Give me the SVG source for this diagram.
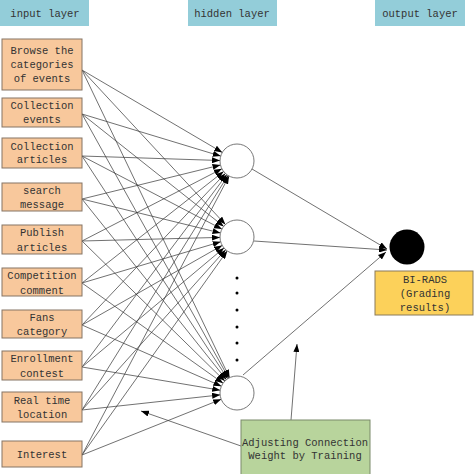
<svg xmlns="http://www.w3.org/2000/svg" width="474" height="474" viewBox="0 0 474 474">
<style>
text{font-family:"Liberation Mono","DejaVu Sans Mono",monospace;font-size:10.5px;fill:#333;text-anchor:middle}
.hdr{fill:#93cdd9;stroke:none}
.inp{fill:#f8c89c;stroke:#857565;stroke-width:1}
.hid{fill:#fff;stroke:#555;stroke-width:0.8}
.ln{stroke:#333;stroke-width:0.7;fill:none;marker-end:url(#ah)}
</style>
<defs>
<marker id="ah" markerWidth="8" markerHeight="6" refX="8" refY="3" orient="auto" markerUnits="userSpaceOnUse">
<path d="M0,0 L8,3 L0,6 z" fill="#000"/>
</marker>
</defs>
<rect width="474" height="474" fill="#fff"/>
<g id="headers">
<g id="h-input"><rect class="hdr" x="0" y="0" width="89" height="26"/><text x="45" y="17">input layer</text></g>
<g id="h-hidden"><rect class="hdr" x="188" y="0" width="89" height="26"/><text x="232" y="17">hidden layer</text></g>
<g id="h-output"><rect class="hdr" x="375" y="0" width="90" height="26"/><text x="420" y="17">output layer</text></g>
</g>
<g id="connectors">
<line class="ln" x1="82" y1="70" x2="222.3" y2="152.4"/>
<line class="ln" x1="82" y1="114" x2="220.7" y2="156.1"/>
<line class="ln" x1="82" y1="156" x2="220" y2="160.5"/>
<line class="ln" x1="82" y1="199" x2="220.5" y2="165"/>
<line class="ln" x1="82" y1="241" x2="221.9" y2="168.8"/>
<line class="ln" x1="82" y1="283" x2="223.6" y2="171.5"/>
<line class="ln" x1="82" y1="325" x2="225.3" y2="173.4"/>
<line class="ln" x1="82" y1="367" x2="226.8" y2="174.6"/>
<line class="ln" x1="82" y1="410" x2="228" y2="175.4"/>
<line class="ln" x1="82" y1="455" x2="229.1" y2="176"/>
<line class="ln" x1="82" y1="70" x2="225.4" y2="224.5"/>
<line class="ln" x1="82" y1="114" x2="223.7" y2="226.4"/>
<line class="ln" x1="82" y1="156" x2="221.9" y2="229.1"/>
<line class="ln" x1="82" y1="199" x2="220.5" y2="233"/>
<line class="ln" x1="82" y1="241" x2="220" y2="237.4"/>
<line class="ln" x1="82" y1="283" x2="220.7" y2="241.8"/>
<line class="ln" x1="82" y1="325" x2="222.2" y2="245.4"/>
<line class="ln" x1="82" y1="367" x2="224" y2="247.9"/>
<line class="ln" x1="82" y1="410" x2="225.7" y2="249.7"/>
<line class="ln" x1="82" y1="455" x2="227.2" y2="250.9"/>
<line class="ln" x1="82" y1="70" x2="229.6" y2="377.7"/>
<line class="ln" x1="82" y1="114" x2="228.7" y2="378.1"/>
<line class="ln" x1="82" y1="156" x2="227.7" y2="378.8"/>
<line class="ln" x1="82" y1="199" x2="226.4" y2="379.7"/>
<line class="ln" x1="82" y1="241" x2="224.9" y2="381.1"/>
<line class="ln" x1="82" y1="283" x2="223.1" y2="383.2"/>
<line class="ln" x1="82" y1="325" x2="221.4" y2="386.2"/>
<line class="ln" x1="82" y1="367" x2="220.2" y2="390.2"/>
<line class="ln" x1="82" y1="410" x2="220.1" y2="394.9"/>
<line class="ln" x1="82" y1="455" x2="221.2" y2="399.3"/>
<line class="ln" x1="252" y1="169" x2="387" y2="249"/>
<line class="ln" x1="254" y1="241" x2="387" y2="250"/>
<line class="ln" x1="243" y1="375" x2="386" y2="252"/>
<line class="ln" x1="291" y1="420" x2="297" y2="344"/>
<line class="ln" x1="241" y1="446" x2="141" y2="411"/>
</g>
<g id="in1"><rect class="inp" x="2" y="39" width="80" height="51"/><text x="42" y="54">Browse the</text><text x="42" y="68">categories</text><text x="42" y="82">of events</text></g>
<g id="in2"><rect class="inp" x="2" y="98" width="80" height="29"/><text x="42" y="109">Collection</text><text x="42" y="123">events</text></g>
<g id="in3"><rect class="inp" x="2" y="138" width="80" height="30"/><text x="42" y="150">Collection</text><text x="42" y="163">articles</text></g>
<g id="in4"><rect class="inp" x="2" y="183" width="80" height="28"/><text x="42" y="194">search</text><text x="42" y="208">message</text></g>
<g id="in5"><rect class="inp" x="2" y="225" width="80" height="29"/><text x="42" y="236">Publish</text><text x="42" y="251">articles</text></g>
<g id="in6"><rect class="inp" x="2" y="268" width="80" height="28"/><text x="42" y="279">Competition</text><text x="42" y="294">comment</text></g>
<g id="in7"><rect class="inp" x="2" y="310" width="80" height="28"/><text x="42" y="321">Fans</text><text x="42" y="335">category</text></g>
<g id="in8"><rect class="inp" x="2" y="351" width="80" height="29"/><text x="42" y="362">Enrollment</text><text x="42" y="377">contest</text></g>
<g id="in9"><rect class="inp" x="2" y="392" width="80" height="30"/><text x="42" y="404">Real time</text><text x="42" y="418">location</text></g>
<g id="in10"><rect class="inp" x="2" y="441" width="80" height="26"/><text x="42" y="458">Interest</text></g>
<g id="hid1"><circle class="hid" cx="237" cy="161" r="17"/></g>
<g id="hid2"><circle class="hid" cx="237" cy="237" r="17"/></g>
<g id="dots" fill="#000"><circle cx="237" cy="278" r="1.5"/><circle cx="237" cy="293" r="1.5"/><circle cx="237" cy="310" r="1.5"/><circle cx="237" cy="327" r="1.5"/><circle cx="237" cy="343" r="1.5"/><circle cx="237" cy="360" r="1.5"/></g>
<g id="hid3"><circle class="hid" cx="237" cy="393" r="17"/></g>
<g id="out"><circle cx="407" cy="247" r="17.5" fill="#000"/></g>
<g id="birads"><rect x="375" y="271" width="98" height="44" fill="#fcd15a" stroke="#8a7a5a" stroke-width="1"/><text x="425" y="283">BI-RADS</text><text x="425" y="297">(Grading</text><text x="425" y="311">results)</text></g>
<g id="train"><rect x="241" y="420" width="129" height="56" fill="#b8d49c" stroke="#7a8a6a" stroke-width="1"/><text x="305" y="446">Adjusting Connection</text><text x="305" y="459">Weight by Training</text></g>
</svg>
